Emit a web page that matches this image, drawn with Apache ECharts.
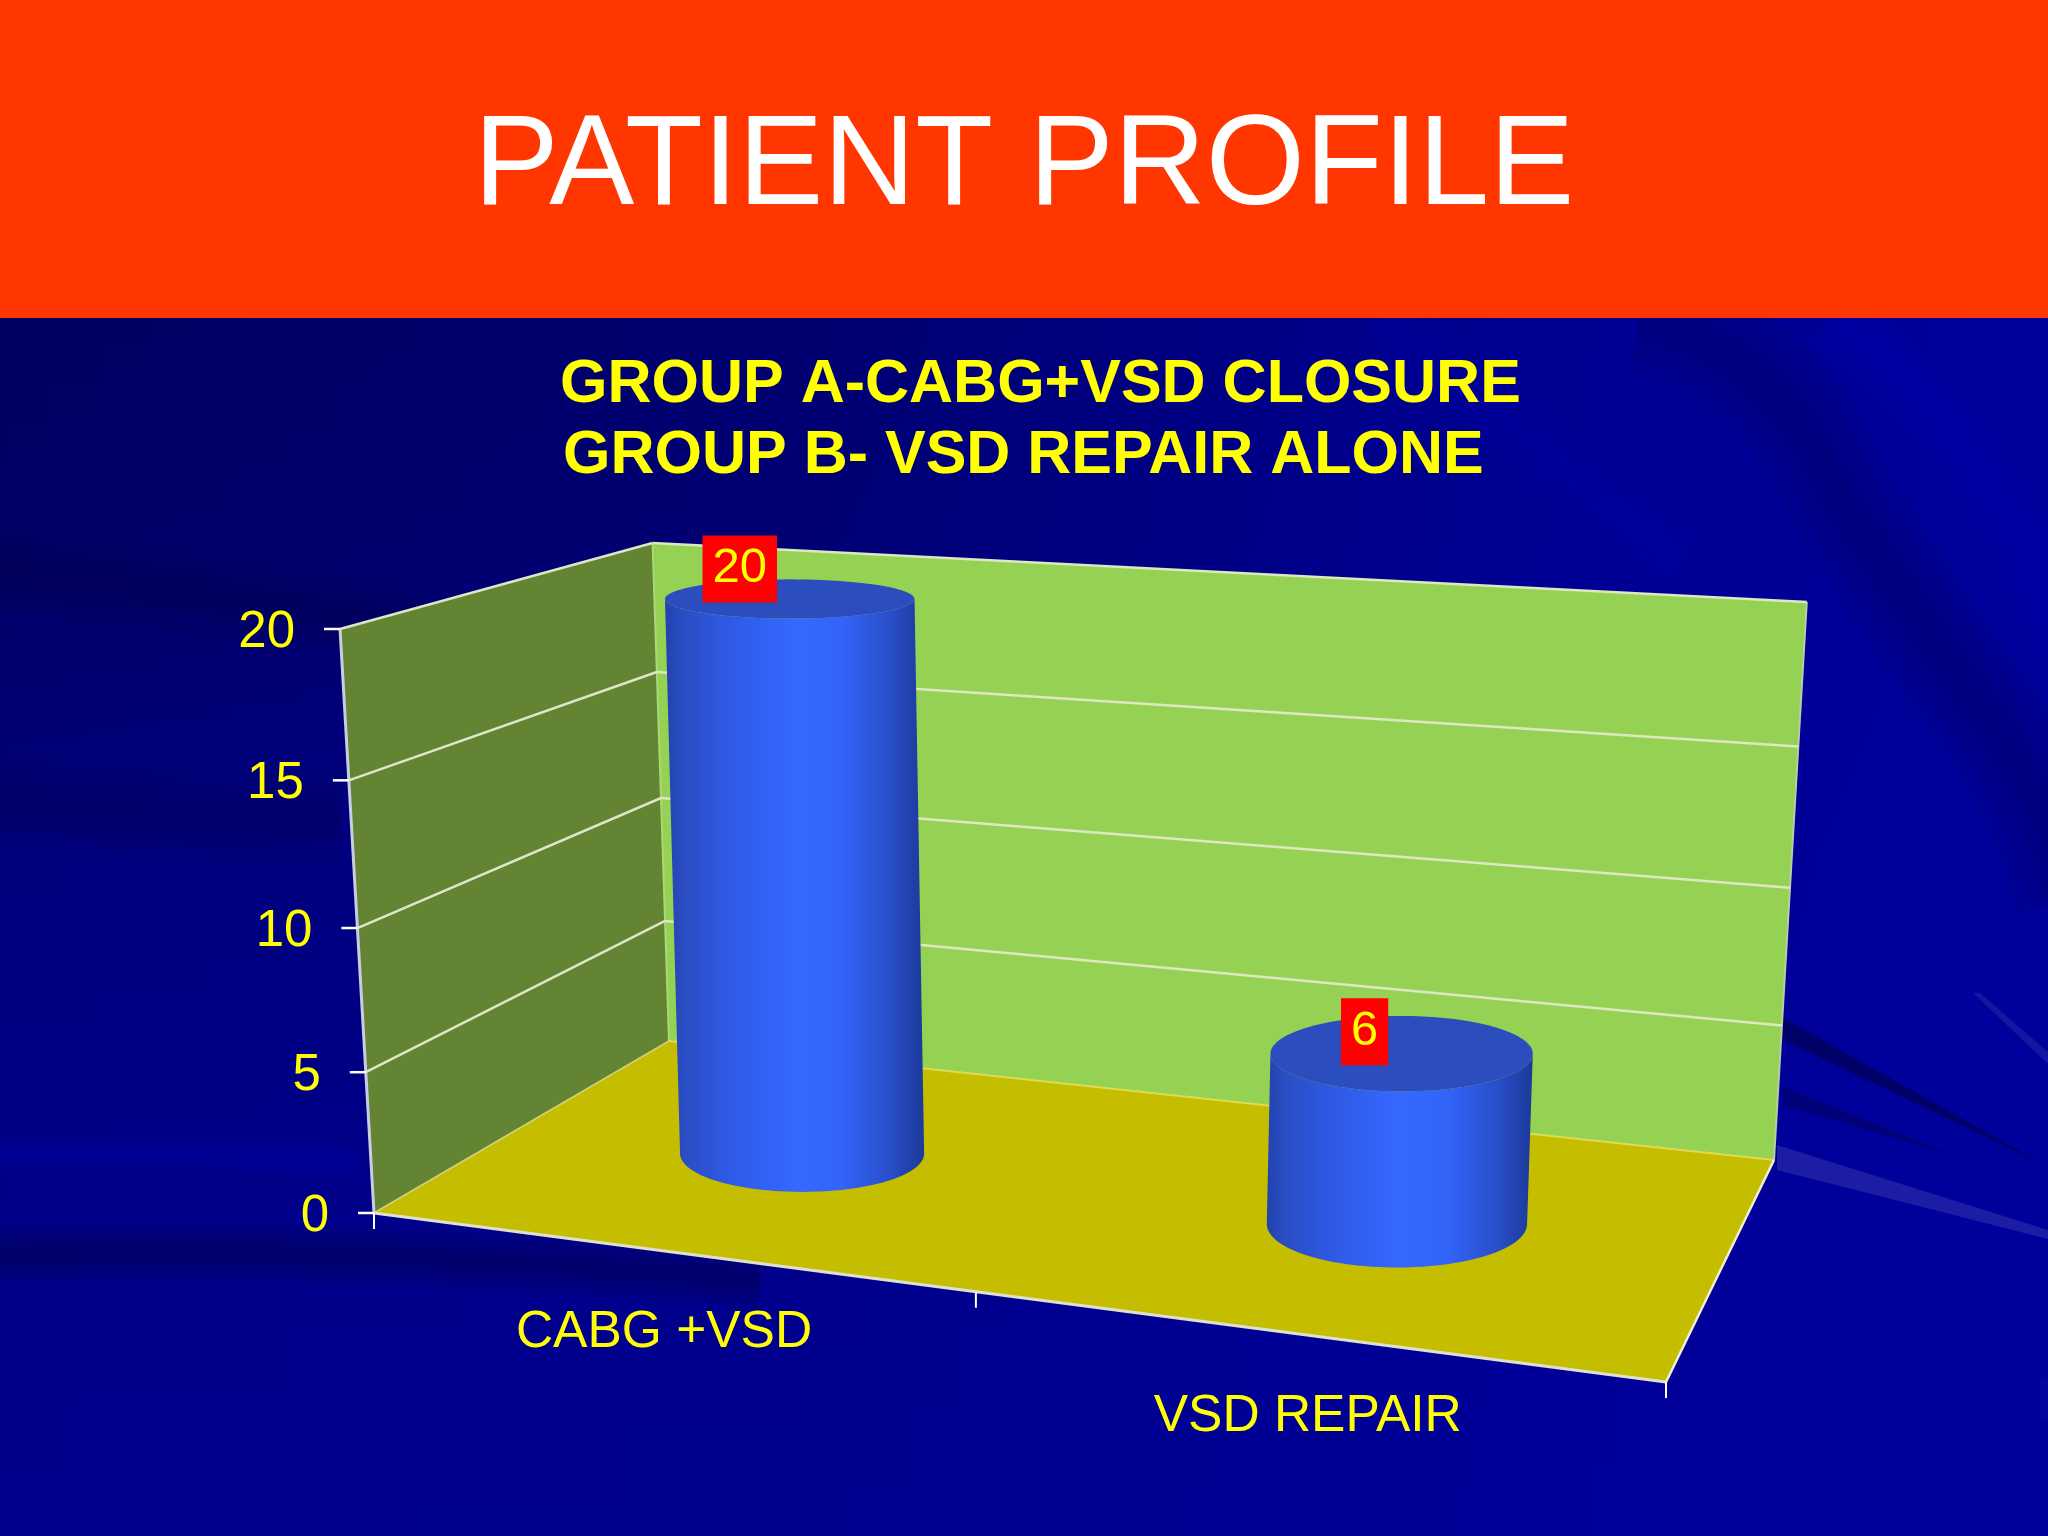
<!DOCTYPE html>
<html>
<head>
<meta charset="utf-8">
<style>html,body{margin:0;padding:0;background:#000080}#c{width:2048px;height:1536px}</style>
<script src="https://cdn.jsdelivr.net/npm/echarts@6/dist/echarts.min.js"></script>
</head>
<body>
<div id="c"></div>
<script>
// ---- data ----
const categories = ['CABG +VSD', 'VSD REPAIR'];
const groupValues = [20, 6];
const yTicks = [0, 5, 10, 15, 20];
const titleText = 'PATIENT PROFILE';
const subtitleA = 'GROUP A-CABG+VSD CLOSURE';
const subtitleB = 'GROUP B- VSD REPAIR ALONE';

// ---- style / 3D view ----
const FONT = '"Liberation Sans", Arial, sans-serif';
const YELLOW = '#FFFF00';
const floorQuad = [[374,1213],[1666,1382],[1774,1160],[669,1041]];
const topQuad   = [[340,629],[1698,728],[1807,602],[649,543]];
const VANISH = [1069,13160];
const PERSP = 0.953;
const CYL_U = 0.21;   // radius along category axis, in category bands
const CYL_D = 0.21;   // radius along depth
const CYL_DEPTH = 0.49;
const labelNudge = [[-50,-30],[-37,-22]];

function homography(q){
  const [p0,p1,p2,p3]=q;
  const dx1=p1[0]-p2[0],dx2=p3[0]-p2[0],sx=p0[0]-p1[0]+p2[0]-p3[0];
  const dy1=p1[1]-p2[1],dy2=p3[1]-p2[1],sy=p0[1]-p1[1]+p2[1]-p3[1];
  const den=dx1*dy2-dx2*dy1;
  const g=(sx*dy2-dx2*sy)/den,h=(dx1*sy-sx*dy1)/den;
  const a=p1[0]-p0[0]+g*p1[0],b=p3[0]-p0[0]+h*p3[0],c=p0[0];
  const d=p1[1]-p0[1]+g*p1[1],e=p3[1]-p0[1]+h*p3[1],f=p0[1];
  return (u,v)=>{const w=g*u+h*v+1;return [(a*u+b*v+c)/w,(d*u+e*v+f)/w];};
}
const Hf=homography(floorQuad),Ht=homography(topQuad);
function proj(u,d,v){
  const F=Hf(u,d),T=Ht(u,d);
  const t=v*PERSP/(v*PERSP+(1-v));
  const y=F[1]+(T[1]-F[1])*t;
  // verticals converge on one point below the picture
  const x=F[0]-(VANISH[0]-F[0])/(VANISH[1]-F[1])*(F[1]-y);
  return [x,y];
}
function uOf(cs,px){return (px-cs.x)/cs.width;}
function vOf(cs,py){return (cs.y+cs.height-py)/cs.height;}
function seg(a,b,stroke,w){return {type:'line',shape:{x1:a[0],y1:a[1],x2:b[0],y2:b[1]},style:{stroke:stroke,lineWidth:w}};}
function poly(pts,fill){return {type:'polygon',shape:{points:pts},style:{fill:fill}};}

function renderFrame(params,api){
  const c=[proj(0,0,0),proj(1,0,0),proj(1,1,0),proj(0,1,0),proj(0,0,1),proj(0,1,1),proj(1,1,1)];
  return {type:'group',children:[
    poly([c[0],c[3],c[5],c[4]],'#628433'),
    poly([c[3],c[2],c[6],c[5]],'#95D254'),
    poly([c[0],c[1],c[2],c[3]],'#C5BD00'),
    seg(c[0],c[4],'#C8CEE0',3),
    seg(c[3],c[5],'#A9D878',2),
    seg(c[2],c[6],'#B8CCA8',2),
    seg(c[0],c[3],'#D0D070',2),
    seg(c[3],c[2],'#DDDC50',2),
    seg(c[1],c[2],'#F0F0D0',2.5),
    seg(c[0],c[1],'#E0E0D0',3)
  ]};
}
function renderTick(params,api){
  const cs=params.coordSys,val=api.value(1);
  const v=vOf(cs,api.coord([0,val])[1]);
  const a=proj(0,0,v),b=proj(0,1,v),d=proj(1,1,v);
  const kids=[];
  if(val>0){
    kids.push(seg(a,b,'#DDE6C8',2.5));
    kids.push(seg(b,d,'#DDE8C0',2.5));
  }
  kids.push(seg([a[0]-16,a[1]],a,'#FFFFFF',2.5));
  kids.push({type:'text',style:{text:String(val),x:a[0]-45,y:a[1]+4,align:'right',verticalAlign:'middle',fontFamily:FONT,fontSize:51,fill:YELLOW}});
  return {type:'group',children:kids};
}
function renderCat(params,api){
  const cs=params.coordSys,i=api.value(0);
  const u=uOf(cs,api.coord([i,0])[0]);
  const half=api.size([1,0])[0]/cs.width/2;
  const p=proj(u,0,0);
  const kids=[];
  const tick=uu=>{const q=proj(uu,0,0);return seg(q,[q[0],q[1]+16],'#FFFFFF',2);};
  kids.push(tick(u-half));
  if(i===categories.length-1) kids.push(tick(u+half));
  kids.push({type:'text',style:{text:categories[i],x:p[0]-1,y:p[1]+82,align:'center',verticalAlign:'middle',fontFamily:FONT,fontSize:51.5,fill:YELLOW}});
  return {type:'group',children:kids};
}
function renderCyl(params,api){
  const cs=params.coordSys,i=api.value(0),val=api.value(1);
  const base=api.coord([i,0]),top=api.coord([i,val]);
  const u=uOf(cs,base[0]),v=vOf(cs,top[1]);
  const ru=CYL_U*api.size([1,0])[0]/cs.width;
  // upright ellipse sized from the projected footprint at height vv
  const ell=vv=>{
    const c=proj(u,CYL_DEPTH,vv);
    const rx=Math.abs(proj(u+ru,CYL_DEPTH,vv)[0]-proj(u-ru,CYL_DEPTH,vv)[0])/2*0.52+61;
    const ry=Math.abs(proj(u,CYL_DEPTH-CYL_D,vv)[1]-proj(u,CYL_DEPTH+CYL_D,vv)[1])/2;
    return {c,rx,ry};
  };
  const arc=(e,from,to,n)=>{const r=[];for(let k=0;k<=n;k++){const t=from+(to-from)*k/n;r.push([e.c[0]+e.rx*Math.cos(t),e.c[1]+e.ry*Math.sin(t)]);}return r;};
  const B=ell(0),T=ell(v);
  const botFront=arc(B,Math.PI,0,48);      // lower half, left to right
  const topFront=arc(T,0,Math.PI,48);      // lower half, right to left
  const x0=Math.min(B.c[0]-B.rx,T.c[0]-T.rx),x1=Math.max(B.c[0]+B.rx,T.c[0]+T.rx);
  const grad=new echarts.graphic.LinearGradient(x0,0,x1,0,[
    {offset:0,color:'#2242AE'},{offset:0.07,color:'#2A4DC2'},{offset:0.25,color:'#2F5AE6'},
    {offset:0.5,color:'#3568FF'},{offset:0.68,color:'#3264F8'},{offset:0.85,color:'#2A50CE'},{offset:1,color:'#1C3A9A'}
  ],true);
  const n=labelNudge[i];
  return {type:'group',children:[
    {type:'polygon',shape:{points:botFront.concat(topFront)},style:{fill:grad}},
    poly(arc(T,0,2*Math.PI,96),'#2B4DBE'),
    {type:'text',z2:10,style:{text:String(val),x:T.c[0]+n[0],y:T.c[1]+n[1],align:'center',verticalAlign:'middle',fontFamily:FONT,fontSize:49,fill:YELLOW,backgroundColor:'#FF0000',padding:[14,10,6,10],lineHeight:47}}
  ]};
}

const W=2048,H=1536;
function streak(pts,color,opacity){return {type:'polygon',z:1,silent:true,shape:{points:pts},style:{fill:color,opacity:opacity}};}
// soft band: several nested strokes of low opacity
function band(pts,color,width,opacity){
  return [1,0.72,0.46,0.22].map(f=>({type:'polyline',z:1,silent:true,shape:{points:pts,smooth:0.5},style:{stroke:color,lineWidth:width*f,opacity:opacity,fill:null,lineCap:'butt'}}));
}
const background=[
  {type:'rect',z:0,silent:true,shape:{x:0,y:0,width:W,height:H},style:{fill:new echarts.graphic.LinearGradient(0,0,0,1,[
    {offset:0,color:'#000058'},{offset:0.35,color:'#000066'},{offset:0.55,color:'#00007C'},{offset:0.8,color:'#000088'},{offset:1,color:'#00008C'}])}},
  {type:'rect',z:0,silent:true,shape:{x:0,y:300,width:W,height:H-300},style:{fill:new echarts.graphic.LinearGradient(0,0,1,0,[
    {offset:0,color:'rgba(0,0,150,0)'},{offset:0.4,color:'rgba(0,0,150,0.3)'},{offset:0.75,color:'rgba(0,0,155,0.85)'},{offset:1,color:'rgba(0,0,155,1)'}])}}
].concat(
  band([[1640,318],[1760,380],[1860,530],[1940,650],[2025,780],[2070,900]],'#000068',110,0.16),
  band([[1830,318],[1950,430],[2070,640]],'#0000B0',60,0.14),
  band([[1380,318],[1540,450],[1680,560]],'#0000A4',70,0.14),
  band([[-20,570],[200,595],[420,625]],'#00004E',80,0.14),
  band([[-20,800],[180,815],[340,820]],'#00005E',90,0.12),
  band([[-20,1155],[180,1155],[360,1162]],'#0000B0',36,0.12),
  band([[-20,1255],[340,1255],[760,1280]],'#000058',56,0.2),
  [
    streak([[1783,1018],[2043,1164],[1783,1040]],'#00005C',0.8),
    streak([[1783,1087],[1953,1155],[1783,1105]],'#000064',0.6),
    streak([[1777,1145],[2048,1230],[2048,1239],[1777,1170]],'#1E1EA4',0.95),
    streak([[1973,993],[1980,993],[2048,1052],[2048,1064]],'#1A1AA4',0.8),
    streak([[2040,1379],[2048,1375],[2048,1420],[2040,1420]],'#0A0AA0',0.5),
    {type:'rect',z:2,silent:true,shape:{x:0,y:0,width:W,height:318},style:{fill:'#FF3600'}}
  ]
);

const chart=echarts.init(document.getElementById('c'),null,{renderer:'canvas',width:W,height:H});
chart.setOption({
  animation:false,
  backgroundColor:'#000080',
  graphic:{elements:background},
  title:[
    {text:titleText,left:'center',top:105,padding:0,textStyle:{color:'#FFFFFF',fontFamily:FONT,fontWeight:'normal',fontSize:127.5}},
    {text:subtitleA,left:560,top:355,padding:0,textStyle:{color:YELLOW,fontFamily:FONT,fontWeight:'bold',fontSize:61}},
    {text:subtitleB,left:563,top:426,padding:0,textStyle:{color:YELLOW,fontFamily:FONT,fontWeight:'bold',fontSize:61}}
  ],
  grid:{left:374,right:382,top:629,bottom:323,containLabel:false},
  xAxis:{type:'category',data:categories,show:false},
  yAxis:{type:'value',min:0,max:20,interval:5,show:false},
  series:[
    {type:'custom',name:'frame',z:3,silent:true,renderItem:renderFrame,data:[[0,0]]},
    {type:'custom',name:'ticks',z:4,silent:true,renderItem:renderTick,data:yTicks.map(t=>[0,t])},
    {type:'custom',name:'categories',z:4,silent:true,renderItem:renderCat,data:categories.map((c,i)=>[i,0])},
    {type:'custom',name:'Patients',z:5,silent:true,renderItem:renderCyl,data:groupValues.map((v,i)=>[i,v])}
  ]
});
</script>
</body>
</html>
